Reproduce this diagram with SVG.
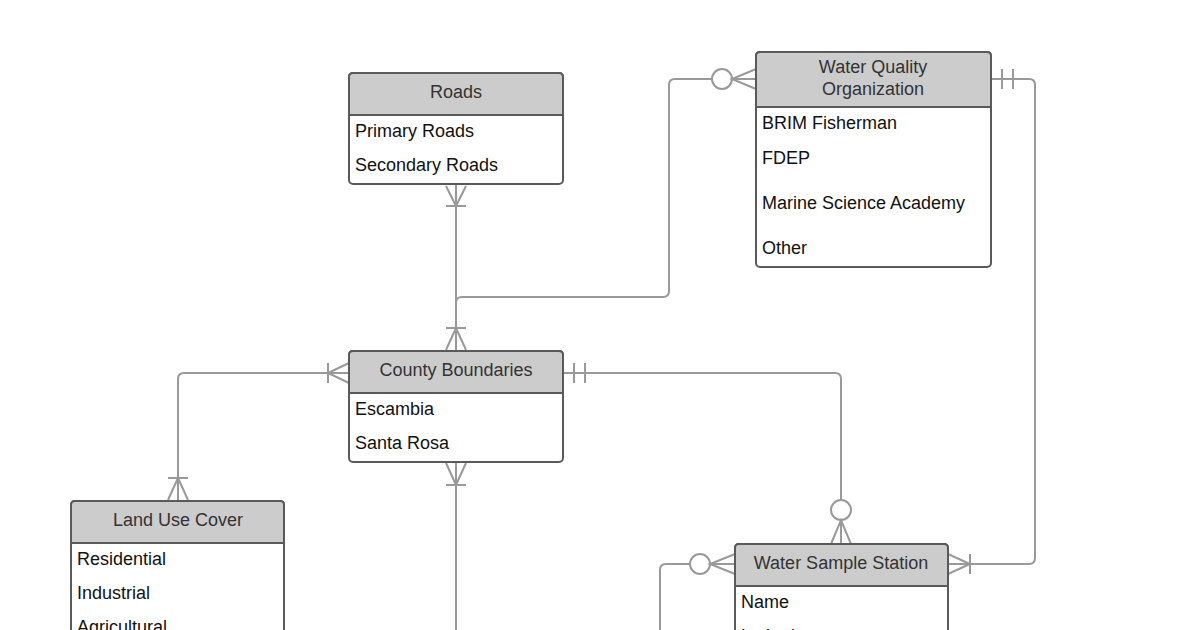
<svg xmlns="http://www.w3.org/2000/svg" width="1200" height="630" viewBox="0 0 1200 630">
<style>
.box{fill:#fff;stroke:#5a5a5a;stroke-width:2}
.hd{fill:#cccccc;stroke:#5a5a5a;stroke-width:2}
.t{font-family:"Liberation Sans",Arial,sans-serif;font-size:18px;fill:#111}
.h{font-family:"Liberation Sans",Arial,sans-serif;font-size:18px;fill:#333;text-anchor:middle}
.c{fill:none;stroke:#999;stroke-width:2}
</style>
<rect width="1200" height="630" fill="#fff"/>
<g id="connectors" class="c">
<path d="M456 184V351"/>
<path d="M446 206H466M446 186L456 206L466 186M456 206V186"/>
<path d="M446 328H466M446 350L456 328L466 350"/>
<path d="M456 305V303Q456 297 462 297H663Q669 297 669 291V85Q669 79 675 79H712"/>
<circle cx="722" cy="79" r="10" fill="#fff"/>
<path d="M732 79H756M756 69L732 79L756 89"/>
<path d="M349 373H184Q178 373 178 379V501"/>
<path d="M328 363V383M349 363L328 373L349 383"/>
<path d="M168 478H188M168 500L178 478L188 500"/>
<path d="M563 373H835Q841 373 841 379V500"/>
<path d="M574 363V383M585 363V383"/>
<circle cx="841" cy="510" r="10" fill="#fff"/>
<path d="M841 520V544M831 544L841 520L851 544"/>
<path d="M991 79H1029Q1035 79 1035 85V558Q1035 564 1029 564H948"/>
<path d="M1002 69V89M1013 69V89"/>
<path d="M970 554V574M948 554L970 564L948 574"/>
<path d="M735 564H710"/>
<circle cx="700" cy="564" r="10" fill="#fff"/>
<path d="M735 554L710 564L735 574"/>
<path d="M690 564H666Q660 564 660 570V630"/>
<path d="M456 462V630"/>
<path d="M446 485H466M446 463L456 485L466 463"/>
</g>
<g id="roads">
<rect class="box" x="349" y="73" width="214" height="111" rx="4"/>
<path class="hd" d="M349 115V77Q349 73 353 73H559Q563 73 563 77V115Z"/>
<text class="h" x="456" y="98">Roads</text>
<text class="t" x="355" y="137">Primary Roads</text>
<text class="t" x="355" y="171">Secondary Roads</text>
</g>
<g id="wqo">
<rect class="box" x="756" y="52" width="235" height="215" rx="4"/>
<path class="hd" d="M756 107V56Q756 52 760 52H987Q991 52 991 56V107Z"/>
<text class="h" x="873" y="73">Water Quality</text>
<text class="h" x="873" y="95">Organization</text>
<text class="t" x="762" y="129">BRIM Fisherman</text>
<text class="t" x="762" y="164">FDEP</text>
<text class="t" x="762" y="209">Marine Science Academy</text>
<text class="t" x="762" y="254">Other</text>
</g>
<g id="county">
<rect class="box" x="349" y="351" width="214" height="111" rx="4"/>
<path class="hd" d="M349 393V355Q349 351 353 351H559Q563 351 563 355V393Z"/>
<text class="h" x="456" y="376">County Boundaries</text>
<text class="t" x="355" y="415">Escambia</text>
<text class="t" x="355" y="449">Santa Rosa</text>
</g>
<g id="landuse">
<rect class="box" x="71" y="501" width="213" height="160" rx="4"/>
<path class="hd" d="M71 543V505Q71 501 75 501H280Q284 501 284 505V543Z"/>
<text class="h" x="178" y="526">Land Use Cover</text>
<text class="t" x="77" y="565">Residential</text>
<text class="t" x="77" y="599">Industrial</text>
<text class="t" x="77" y="633">Agricultural</text>
</g>
<g id="wss">
<rect class="box" x="735" y="544" width="213" height="130" rx="4"/>
<path class="hd" d="M735 586V548Q735 544 739 544H944Q948 544 948 548V586Z"/>
<text class="h" x="841" y="569">Water Sample Station</text>
<text class="t" x="741" y="608">Name</text>
<text class="t" x="741" y="642">Latitude</text>
</g>
</svg>
